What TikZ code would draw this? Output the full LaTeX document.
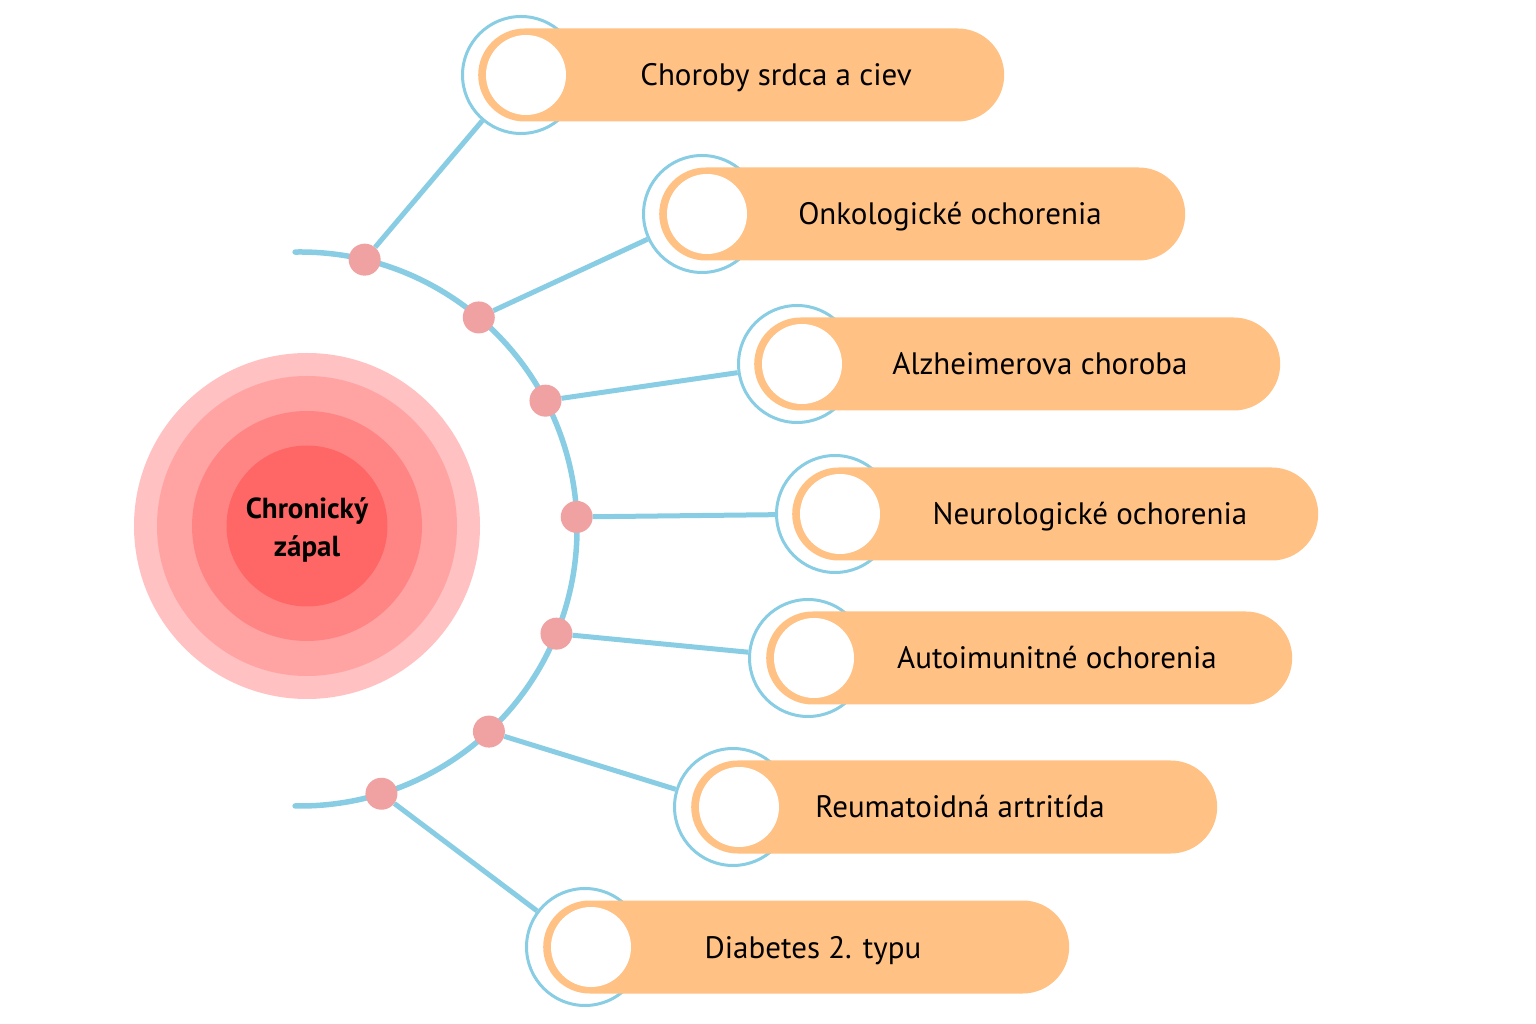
\documentclass[tikz,border=0pt]{standalone}
\usepackage{fontspec}
\setmainfont{PT Sans}
\definecolor{wirecol}{HTML}{88CDE3}
\definecolor{pillcol}{HTML}{FFC184}
\definecolor{dotcol}{HTML}{F0A1A2}
\definecolor{glowA}{HTML}{FFC1C1}
\definecolor{glowB}{HTML}{FFA3A3}
\definecolor{glowC}{HTML}{FF8585}
\definecolor{glowD}{HTML}{FF6666}
\tikzset{
  wire/.style={draw=wirecol,line width=5pt,line cap=round},
  dot/.style={circle,fill=dotcol,minimum size=32pt,inner sep=0pt},
  ring/.style={circle,draw=wirecol,line width=3pt,fill=white,minimum size=117pt,inner sep=0pt},
  pill/.style={rectangle,rounded corners=46.5pt,fill=pillcol,minimum width=526pt,minimum height=93pt,inner sep=0pt,anchor=west},
  hole/.style={circle,fill=white,minimum size=80pt,inner sep=0pt},
  glow/.style={circle,inner sep=0pt},
  item/.style={anchor=base,font=\fontsize{31}{37}\selectfont}
}
\begin{document}
\begin{tikzpicture}[x=1pt,y=1pt]
\useasboundingbox (0,0) rectangle (1536,1023);
% centre
\node[glow,fill=glowA,minimum size=346pt] (g1) at (307,497) {};
\node[glow,fill=glowB,minimum size=300pt] (g2) at (307,497) {};
\node[glow,fill=glowC,minimum size=230pt] (g3) at (307,497) {};
\node[glow,fill=glowD,minimum size=161pt] (core) at (307,497) {};
\node[align=center,font=\bfseries\fontsize{29}{38}\selectfont] (title) at (307,493) {Chronický\\zápal};
% arc and dots
\begin{scope}[shift={(300,494)}]
\draw[wire,line width=5.5pt] (91:277) arc[start angle=91,end angle=-91,radius=277];
\node[dot] (d1) at (76.5:277) {};
\node[dot] (d2) at (49.8:277) {};
\node[dot] (d3) at (27.6:277) {};
\node[dot] (d4) at (2.5:277) {};
\node[dot] (d5) at (-22.2:277) {};
\node[dot] (d6) at (-47:277) {};
\node[dot] (d7) at (-72.9:277) {};
\end{scope}
% items
\node[ring] (r1) at (521,948) {};
\node[pill] (p1) at (478,948) {};
\node[hole] (h1) at ([xshift=48pt]p1.west) {};
\node[item] (t1) at (776,937) {Choroby srdca a ciev};
\node[ring] (r2) at (702,809) {};
\node[pill] (p2) at (659,809) {};
\node[hole] (h2) at ([xshift=48pt]p2.west) {};
\node[item] (t2) at (950,798) {Onkologické ochorenia};
\node[ring] (r3) at (797,659) {};
\node[pill] (p3) at (754,659) {};
\node[hole] (h3) at ([xshift=48pt]p3.west) {};
\node[item] (t3) at (1040,648) {Alzheimerova choroba};
\node[ring] (r4) at (835,509) {};
\node[pill] (p4) at (792,509) {};
\node[hole] (h4) at ([xshift=48pt]p4.west) {};
\node[item] (t4) at (1090,498) {Neurologické ochorenia};
\node[ring] (r5) at (808,365) {};
\node[pill] (p5) at (766,365) {};
\node[hole] (h5) at ([xshift=48pt]p5.west) {};
\node[item] (t5) at (1057,354) {Autoimunitné ochorenia};
\node[ring] (r6) at (733,216) {};
\node[pill] (p6) at (691,216) {};
\node[hole] (h6) at ([xshift=48pt]p6.west) {};
\node[item] (t6) at (960,205) {Reumatoidná artritída};
\node[ring] (r7) at (585,76) {};
\node[pill] (p7) at (543,76) {};
\node[hole] (h7) at ([xshift=48pt]p7.west) {};
\node[item] (t7) at (813,65) {Diabetes 2. typu};
% connectors
\draw[wire,line cap=butt] (d1)--(r1);
\draw[wire,line cap=butt] (d2)--(r2);
\draw[wire,line cap=butt] (d3)--(r3);
\draw[wire,line cap=butt] (d4)--(r4);
\draw[wire,line cap=butt] (d5)--(r5);
\draw[wire,line cap=butt] (d6)--(r6);
\draw[wire,line cap=butt] (d7)--(r7);
\end{tikzpicture}
\end{document}
